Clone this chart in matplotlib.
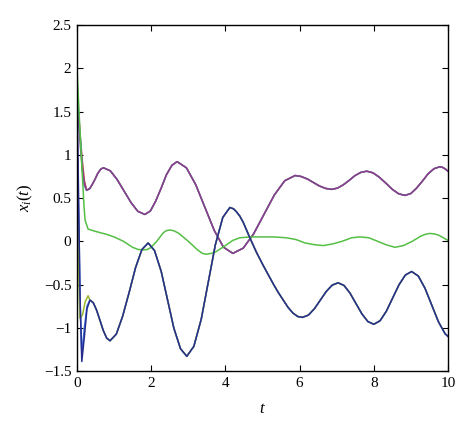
import matplotlib
matplotlib.use("Agg")
import matplotlib.pyplot as plt

# main trajectories of the three clusters
t_purple = [0.26, 0.34, 0.41, 0.49, 0.56, 0.64, 0.71,
            0.90, 1.08, 1.27, 1.46, 1.64, 1.83,
            1.98, 2.12, 2.27, 2.41, 2.56, 2.70,
            2.95, 3.20, 3.45, 3.70, 3.95, 4.20,
            4.48, 4.76, 5.04, 5.32, 5.60, 5.88,
            6.04, 6.21, 6.37, 6.53, 6.70, 6.86,
            7.02, 7.18, 7.34, 7.49, 7.65, 7.81,
            7.98, 8.15, 8.33, 8.50, 8.67, 8.84,
            9.00, 9.15, 9.31, 9.46, 9.62, 9.77, 9.85, 9.93, 10.0]
x_purple = [0.59, 0.607, 0.655, 0.72, 0.785, 0.833, 0.85,
            0.814, 0.715, 0.58, 0.445, 0.346, 0.31,
            0.351, 0.463, 0.615, 0.768, 0.879, 0.92,
            0.849, 0.655, 0.39, 0.125, -0.069, -0.14,
            -0.08, 0.085, 0.31, 0.535, 0.70, 0.76,
            0.749, 0.72, 0.68, 0.64, 0.611, 0.60,
            0.614, 0.653, 0.705, 0.758, 0.796, 0.81,
            0.791, 0.74, 0.67, 0.60, 0.549, 0.53,
            0.552, 0.613, 0.695, 0.778, 0.838, 0.86, 0.855, 0.835, 0.81]

t_green = [0.30, 0.45, 0.62, 0.80, 1.0, 1.25, 1.5, 1.65, 1.79, 1.9, 2.0, 2.15, 2.33, 2.42,
           2.51, 2.62, 2.75, 3.0, 3.25, 3.38, 3.49, 3.62, 3.75, 4.0, 4.2, 4.39, 4.66, 5.0,
           5.3, 5.65, 5.9, 6.15, 6.4, 6.64, 6.9, 7.15, 7.4, 7.63, 7.87, 8.1, 8.33, 8.57,
           8.8, 9.04, 9.27, 9.39, 9.51, 9.63, 9.75, 10.0]
x_green = [0.14, 0.12, 0.10, 0.08, 0.05, 0.0, -0.07, -0.095, -0.10, -0.095, -0.07, 0.0, 0.10, 0.125,
           0.13, 0.12, 0.09, 0.0, -0.10, -0.14, -0.15, -0.14, -0.12, -0.05, 0.01, 0.04, 0.05, 0.05,
           0.05, 0.04, 0.02, -0.02, -0.04, -0.05, -0.03, 0.0, 0.04, 0.05, 0.04, 0.0, -0.04, -0.07,
           -0.05, 0.0, 0.06, 0.08, 0.09, 0.085, 0.07, 0.01]

t_blue = [0.35, 0.44, 0.53, 0.62, 0.71, 0.80, 0.89,
          1.06, 1.23, 1.41, 1.58, 1.75, 1.92,
          2.09, 2.27, 2.44, 2.61, 2.79, 2.96,
          3.15, 3.35, 3.54, 3.73, 3.93, 4.12,
          4.22, 4.30, 4.39, 4.48, 4.57, 4.66, 4.75, 4.84, 4.93, 5.02, 5.16, 5.30,
          5.43, 5.56, 5.69, 5.82, 5.95, 6.08,
          6.24, 6.40, 6.56, 6.72, 6.88, 7.04,
          7.20, 7.36, 7.52, 7.68, 7.84, 8.0,
          8.17, 8.34, 8.51, 8.68, 8.85, 9.02,
          9.20, 9.38, 9.56, 9.74, 9.92, 10.0]
x_blue = [-0.68, -0.711, -0.798, -0.915, -1.033, -1.119, -1.15,
          -1.074, -0.868, -0.585, -0.303, -0.096, -0.02,
          -0.108, -0.348, -0.675, -1.003, -1.242, -1.33,
          -1.215, -0.90, -0.47, -0.04, 0.275, 0.39,
          0.375, 0.34, 0.29, 0.22, 0.13, 0.04, -0.045, -0.13, -0.205, -0.28, -0.39, -0.50,
          -0.595, -0.68, -0.765, -0.83, -0.87, -0.88,
          -0.853, -0.78, -0.68, -0.58, -0.507, -0.48,
          -0.512, -0.60, -0.72, -0.84, -0.928, -0.96,
          -0.919, -0.808, -0.655, -0.503, -0.391, -0.35,
          -0.402, -0.543, -0.735, -0.928, -1.068, -1.10]

# individual starting transients of the agents
agents = [
    # (head t, head x, cluster, colour)
    ([0.0, 0.05, 0.10, 0.15, 0.20], [1.60, 1.45, 1.15, 0.90, 0.70], "purple", "#c0393b"),
    ([0.0, 0.05, 0.10, 0.15, 0.20], [1.70, 1.40, 1.15, 0.80, 0.64], "purple", "#2bb3b3"),
    ([0.0, 0.05, 0.10, 0.15, 0.20], [1.55, 1.35, 1.05, 0.82, 0.66], "purple", "#8e3a8e"),
    ([0.0, 0.05, 0.10, 0.15, 0.19, 0.22], [2.00, 1.55, 1.10, 0.72, 0.40, 0.24], "green", "#55bf45"),
    ([0.0, 0.05, 0.09, 0.13, 0.20, 0.27], [1.30, 0.20, -0.80, -1.30, -1.00, -0.75], "blue", "#3a6fd8"),
    ([0.0, 0.05, 0.08, 0.15, 0.22, 0.30], [0.40, -0.40, -0.89, -0.85, -0.70, -0.63], "blue", "#9ab52a"),
    ([0.0, 0.04, 0.08, 0.13, 0.20, 0.27], [1.85, 0.60, -0.60, -1.39, -1.10, -0.78], "blue", "#252d8f"),
]

clusters = {"purple": (t_purple, x_purple), "green": (t_green, x_green), "blue": (t_blue, x_blue)}

yticks = [-1.5, -1, -0.5, 0, 0.5, 1, 1.5, 2, 2.5]
ytick_labels = ["\u22121.5", "\u22121", "\u22120.5", "0", "0.5", "1", "1.5", "2", "2.5"]
xticks = [0, 2, 4, 6, 8, 10]

plt.rcParams["font.family"] = "Liberation Serif"
plt.rcParams["mathtext.fontset"] = "custom"
plt.rcParams["mathtext.rm"] = "Liberation Serif"
plt.rcParams["mathtext.it"] = "Liberation Serif:italic"

fig = plt.figure(figsize=(4.74, 4.32), dpi=100)
ax = fig.add_axes([0.1624, 0.1412, 0.7827, 0.8009])

for head_t, head_x, name, color in agents:
    tm, xm = clusters[name]
    ax.plot(head_t + tm, head_x + xm, color=color, linewidth=1.1)

ax.set_xlim(0, 10)
ax.set_ylim(-1.5, 2.5)
ax.set_xticks(xticks)
ax.set_yticks(yticks)
ax.set_yticklabels(ytick_labels)
ax.tick_params(direction="in", top=True, right=True, length=4, labelsize=11, pad=4)
for s in ax.spines.values():
    s.set_linewidth(1.0)

ax.set_xlabel("$t$", fontsize=12, labelpad=8)
ax.set_ylabel("$x_i(t)$", fontsize=12, labelpad=6)

fig.savefig("out.png", dpi=100)
